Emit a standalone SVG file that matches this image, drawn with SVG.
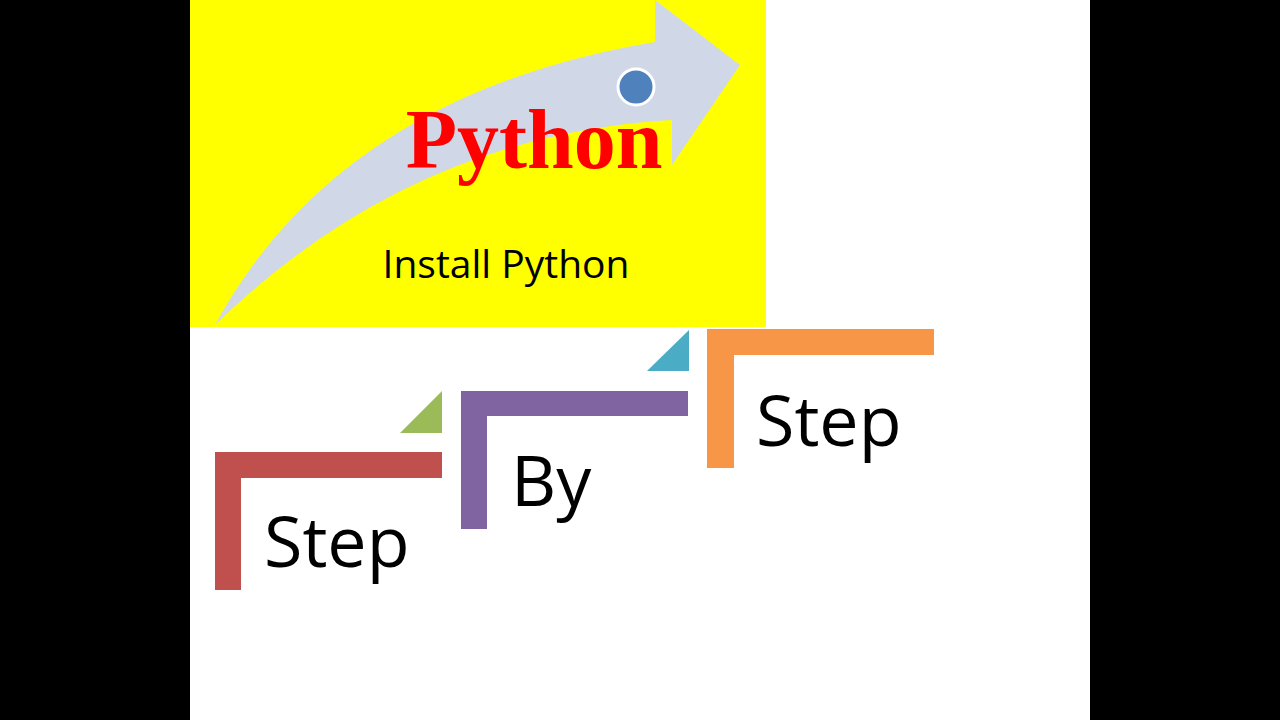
<svg xmlns="http://www.w3.org/2000/svg" width="1280" height="720" viewBox="0 0 1280 720">
<style>
.s{font-family:"Open Sans","Liberation Sans",sans-serif;fill:#000}
</style>
<rect width="1280" height="720" fill="#000"/>
<rect x="190" y="0" width="900" height="720" fill="#fff"/>
<g id="banner">
<rect x="190" y="0" width="576" height="327" fill="#ffff00"/>
<path d="M215,325 Q340,95 655,42 L655,0 L740,65 L672,165 L672,120 Q410,135 215,325 Z" fill="#d0d8e8"/>
<circle cx="636" cy="87" r="18" fill="#4f81bd" stroke="#fff" stroke-width="3"/>
<text x="534" y="168" text-anchor="middle" font-family="'Liberation Serif',serif" font-weight="bold" font-size="84" fill="#ff0000">Python</text>
<text x="506" y="278" text-anchor="middle" class="s" font-size="39">Install Python</text>
</g>
<g id="step1">
<path d="M215,452 H442 V478 H241 V590 H215 Z" fill="#c0504d"/>
<polygon points="400,433 442,433 442,391" fill="#9bbb59"/>
<text x="264" y="567" class="s" font-size="70">Step</text>
</g>
<g id="step2">
<path d="M461,391 H688 V416 H487 V529 H461 Z" fill="#8064a2"/>
<polygon points="647,371 689,371 689,330" fill="#4bacc6"/>
<text x="511" y="506" class="s" font-size="70">By</text>
</g>
<g id="step3">
<path d="M707,329 H934 V355 H734 V468 H707 Z" fill="#f79646"/>
<text x="756" y="446" class="s" font-size="70">Step</text>
</g>
<g id="connectors"/>
</svg>
